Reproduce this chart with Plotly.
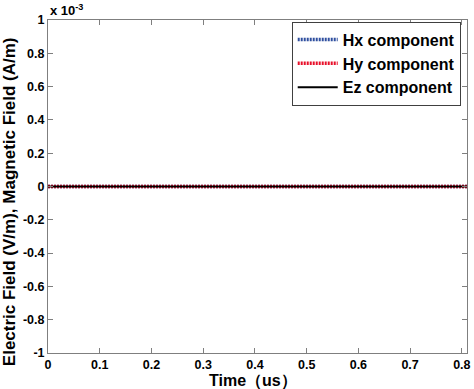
import plotly.graph_objects as go

time_us = [0, 0.1, 0.2, 0.3, 0.4, 0.5, 0.6, 0.7, 0.8, 0.81]
hx = [0, 0, 0, 0, 0, 0, 0, 0, 0, 0]
hy = [0, 0, 0, 0, 0, 0, 0, 0, 0, 0]
ez = [0, 0, 0, 0, 0, 0, 0, 0, 0, 0]
x_ticks = [0, 0.1, 0.2, 0.3, 0.4, 0.5, 0.6, 0.7, 0.8]
x_labels = ["0", "0.1", "0.2", "0.3", "0.4", "0.5", "0.6", "0.7", "0.8"]
y_ticks = [-1, -0.8, -0.6, -0.4, -0.2, 0, 0.2, 0.4, 0.6, 0.8, 1]
y_labels = ["-1", "-0.8", "-0.6", "-0.4", "-0.2", "0", "0.2", "0.4", "0.6", "0.8", "1"]

FONT = "Liberation Sans, Arial, sans-serif"

fig = go.Figure()
fig.add_trace(go.Scatter(x=time_us, y=hx, mode="lines", name="Hx component",
                         line=dict(color="#2f4f9f", width=3.5, dash="2px,1px")))
fig.add_trace(go.Scatter(x=time_us, y=hy, mode="lines", name="Hy component",
                         line=dict(color="#e8102a", width=3.5, dash="2px,1px")))
fig.add_trace(go.Scatter(x=time_us, y=ez, mode="lines", name="Ez component",
                         line=dict(color="black", width=2)))

axis_common = dict(showline=True, linecolor="#7f7f7f", linewidth=1, mirror="ticks",
                   ticks="inside", ticklen=5, tickcolor="#7f7f7f", showgrid=False,
                   zeroline=False, ticklabeloverflow="allow",
                   tickfont=dict(family=FONT, size=12.5, color="black", weight="bold"))

fig.update_layout(
    width=474, height=389,
    margin=dict(l=48, r=3, t=20, b=36),
    paper_bgcolor="white", plot_bgcolor="white",
    font=dict(family=FONT, color="black"),
    xaxis=dict(range=[0, 0.81], tickvals=x_ticks, ticktext=x_labels, **axis_common),
    yaxis=dict(range=[-1, 1], tickvals=y_ticks, ticktext=y_labels, **axis_common),
    legend=dict(x=0.985, y=0.995, xanchor="right", yanchor="top",
                bgcolor="white", bordercolor="#404040", borderwidth=1,
                font=dict(family=FONT, size=16, weight="bold"),
                tracegroupgap=0, itemwidth=40),
    showlegend=True,
)
fig.add_annotation(text="x 10<sup>-3</sup>", xref="paper", yref="paper", x=0, y=1,
                   xanchor="left", yanchor="bottom", showarrow=False,
                   font=dict(family=FONT, size=13, weight="bold"))
fig.add_annotation(text="Electric Field (V/m), Magnetic Field (A/m)", xref="paper", yref="paper",
                   x=-0.093, y=0.453, textangle=-90, showarrow=False,
                   xanchor="center", yanchor="middle",
                   font=dict(family=FONT, size=17, weight="bold"))
fig.add_annotation(text="Time（us）", xref="paper", yref="paper",
                   x=0.49, y=-0.051, showarrow=False, xanchor="center", yanchor="top",
                   font=dict(family=FONT, size=16, weight="bold"))

fig.write_html("out.html")
